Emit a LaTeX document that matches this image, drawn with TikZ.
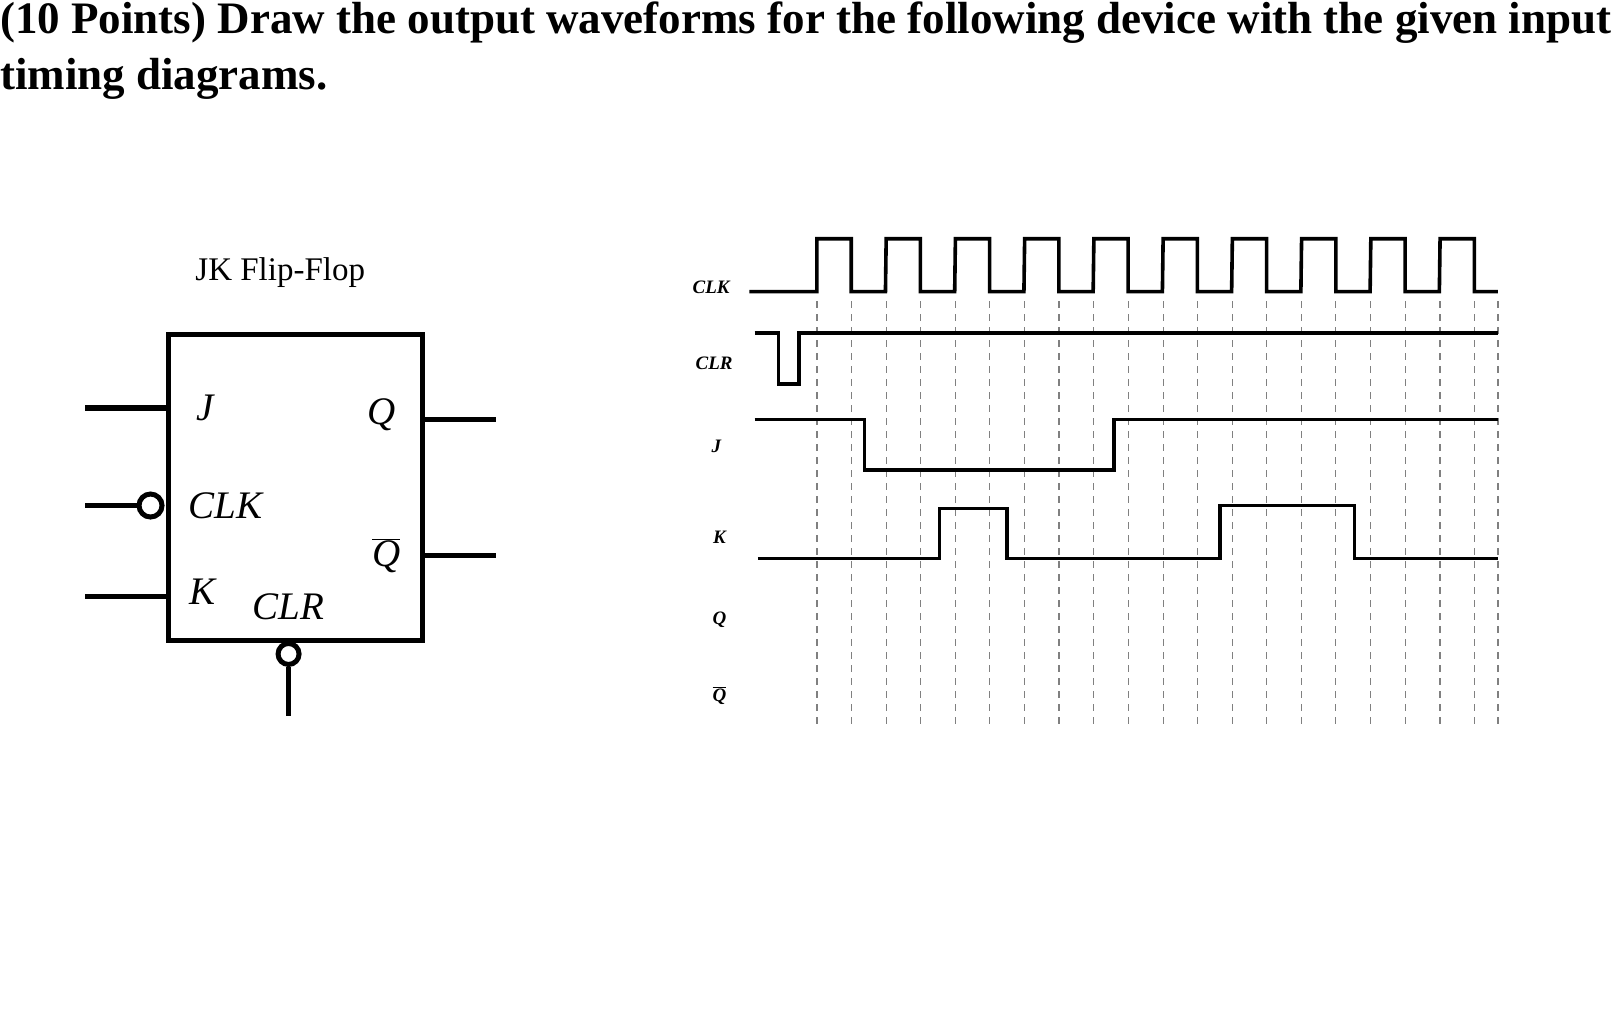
\documentclass[tikz,border=0pt]{standalone}
\usepackage{fontspec}
\setmainfont{Liberation Serif}
\begin{document}
\begin{tikzpicture}[x=1.038pt,y=-1.038pt,
  wave/.style={line width=3.6pt,line join=miter},
  grid/.style={gray,line width=1.2pt,dash pattern=on 7pt off 6pt},
  sig/.style={font=\fontsize{19}{19}\selectfont\itshape\bfseries},
  pin/.style={font=\fontsize{39}{39}\selectfont\itshape},
  body/.style={line width=5.2pt}]
\useasboundingbox (0,0) rectangle (1561.6,981.7);
\node[anchor=base west,inner xsep=0pt,font=\fontsize{45}{48}\selectfont\bfseries] (t1) at (0,32) {(10 Points) Draw the output waveforms for the following device with the given input};
\node[anchor=base west,inner xsep=0pt,font=\fontsize{45}{48}\selectfont\bfseries] (t2) at (0,86) {timing diagrams.};
% flip-flop
\node[font=\fontsize{33}{33}\selectfont] (title) at (270,263) {JK Flip-Flop};
\node[draw,body,minimum width=254pt,minimum height=306pt,anchor=north west] (ff) at (160,320) {};
\coordinate (ji) at (82,393); \coordinate (jb) at (160,393);
\draw[body] (ji) -- (jb);
\coordinate (ki) at (82,575); \coordinate (kb) at (160,575);
\draw[body] (ki) -- (kb);
\node[draw,circle,line width=5pt,minimum size=23pt,inner sep=0] (cb) at (145,487) {};
\coordinate (ci) at (82,487);
\draw[body] (ci) -- (cb.west);
\coordinate (qo) at (478,404); \coordinate (qb) at (405,404);
\draw[body] (qb) -- (qo);
\coordinate (nqo) at (478,535); \coordinate (nqb) at (405,535);
\draw[body] (nqb) -- (nqo);
\node[draw,circle,line width=5pt,minimum size=21pt,inner sep=0] (rb) at (278,630) {};
\coordinate (ro) at (278,690);
\draw[body] (rb.south) -- (ro);
\node[pin] (lj) at (198,393) {J};
\node[pin] (lq) at (368,400) {Q};
\node[pin] (lclk) at (217,487) {CLK};
\node[pin] (lnq) at (372,535) {$\overline{\mbox{Q}}$};
\node[pin] (lk) at (195,570) {K};
\node[pin] (lclr) at (278,585) {CLR};
% timing labels
\node[sig] (sclk) at (685,277) {CLK};
\node[sig] (sclr) at (688,350) {CLR};
\node[sig] (sj) at (690,430) {J};
\node[sig] (sk) at (693,518) {K};
\node[sig] (sq) at (693,597) {Q};
\node[sig] (snq) at (693,670) {$\overline{\mbox{Q}}$};
% grid
\foreach \k in {0,...,9}{
  \draw[grid] (787+66.7*\k,290) -- (787+66.7*\k,700);
  \draw[grid] (820+66.7*\k,290) -- (820+66.7*\k,700);
}
\draw[grid] (1443,290) -- (1443,700);
% CLK
\draw[wave] (722,281) -- (787,281)
  \foreach \k in {0,...,9}{ -- (787+66.7*\k,230) -- (820+66.7*\k,230) -- (820+66.7*\k,281) -- ({min(853+66.7*\k,1443)},281)};
% CLR
\draw[wave] (727,321) -- (750,321) -- (750,370) -- (770,370) -- (770,321) -- (1443,321);
% J
\draw[wave] (727,404) -- (833,404) -- (833,453) -- (1073,453) -- (1073,404) -- (1443,404);
% K
\draw[wave] (730,538) -- (905,538) -- (905,490) -- (970,490) -- (970,538) -- (1175,538) -- (1175,487) -- (1305,487) -- (1305,538) -- (1443,538);
\end{tikzpicture}
\end{document}
